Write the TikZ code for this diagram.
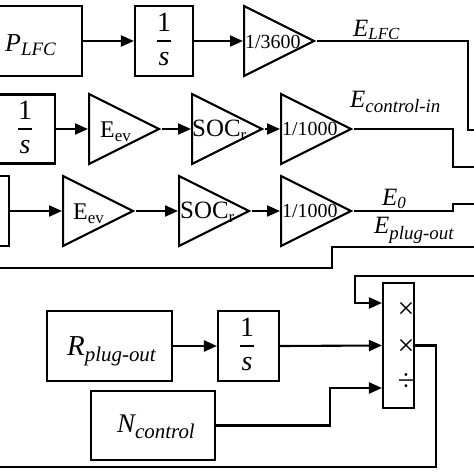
\documentclass[tikz,border=0pt]{standalone}
\usepackage{fontspec}
\setmainfont{Liberation Serif}
\usetikzlibrary{arrows.meta,shapes.geometric}
\newcommand\lab[5]{{\fontsize{#1}{#1}\selectfont\itshape #4}\raisebox{-#3bp}{\fontsize{#2}{#2}\selectfont\itshape #5}}
\newcommand\frf{\fontsize{28}{28}\selectfont}
\newcommand\gainf{\fontsize{20}{20}\selectfont}
\newcommand\eev{{\fontsize{24}{24}\selectfont E\raisebox{-4bp}{\fontsize{17}{17}\selectfont ev}}}
\newcommand\socr{{\fontsize{25}{25}\selectfont SOC\raisebox{-4bp}{\fontsize{17}{17}\selectfont r}}}
\newcommand\fracin[3]{%
  \node[txt,font=\frf] (#1n) at (#2,#3-18.5) {1};
  \draw[line width=1.4bp] (#2-7,#3) -- (#2+7,#3);
  \node[txt,font=\frf\itshape] (#1d) at (#2,#3+18.5) {s};
}
\begin{document}
\begin{tikzpicture}[x=1bp,y=-1bp,
  blk/.style={draw,line width=2.1bp,inner sep=0pt},
  tri/.style={draw,line width=2.1bp,isosceles triangle,isosceles triangle stretches,inner sep=0pt,minimum width=70bp,minimum height=70bp,anchor=lower side},
  wire/.style={line width=2.1bp},
  arr/.style={wire,-{Triangle[length=13bp,width=11bp]}},
  txt/.style={inner sep=0pt}]
\useasboundingbox (0,0) rectangle (474,474);
\fill[white] (0,0) rectangle (474,474);
\clip (0,0) rectangle (474,474);

% ---- row 1
\node[blk,minimum width=92bp,minimum height=70bp] (plfc) at (36,41) {};
\node[txt,anchor=base west] (plfct) at (5,52) {\lab{26}{19}{4}{P}{LFC}};
\node[blk,minimum width=58bp,minimum height=70bp] (int1) at (164,41) {};
\fracin{int1}{164}{41}
\node[tri] (g1) at (243,41) {};
\node[txt,anchor=west] (g1t) at (245,42) {\gainf 1/3600};
\draw[arr] (plfc.east) -- (int1.west);
\draw[arr] (int1.east) -- (g1.lower side);
\coordinate (o1) at (474,130);
\draw[wire] (g1.apex) -- ++(151,0) |- (o1);
\node[txt,anchor=base west] (elfc) at (353,37) {\lab{25}{17}{3}{E}{LFC}};

% ---- row 2
\node[blk,minimum width=75bp,minimum height=69bp] (int2) at (17.5,129) {};
\fracin{int2}{25}{129}
\node[tri] (eev2) at (88,129) {};
\node[tri] (soc2) at (191,129) {};
\node[tri] (k2) at (280,129) {};
\node[txt,anchor=west] (eev2t) at (100,132) {\eev};
\node[txt,anchor=west] (soc2t) at (192,130) {\socr};
\node[txt,anchor=west] (k2t) at (282,129) {\gainf 1/1000};
\draw[arr] (int2.east) -- (eev2.lower side);
\draw[arr] (eev2.apex) -- (soc2.lower side);
\draw[arr] (soc2.apex) -- (k2.lower side);
\coordinate (o2) at (474,167);
\draw[wire] (k2.apex) -- ++(99,0) |- (o2);
\node[txt,anchor=base west] (ecin) at (350,108) {\lab{25}{19}{5}{E}{control-in}};

% ---- row 3
\node[blk,minimum width=58bp,minimum height=70bp] (int3) at (-20,211) {};
\node[tri] (eev3) at (62,211) {};
\node[tri] (soc3) at (178,211) {};
\node[tri] (k3) at (280,211) {};
\node[txt,anchor=west] (eev3t) at (73,214) {\eev};
\node[txt,anchor=west] (soc3t) at (180,212) {\socr};
\node[txt,anchor=west] (k3t) at (282,211) {\gainf 1/1000};
\draw[arr] (int3.east) -- (eev3.lower side);
\draw[arr] (eev3.apex) -- (soc3.lower side);
\draw[arr] (soc3.apex) -- (k3.lower side);
\coordinate (o3) at (474,204);
\draw[wire] (k3.apex) -- ++(99,0) |- (o3);
\node[txt,anchor=base west] (e0) at (382,206) {\lab{25}{17}{3}{E}{0}};

% ---- plug-out line
\coordinate (pin) at (474,247);
\coordinate (pout) at (0,268);
\draw[wire] (pin) -- ++(-142,0) |- (pout);
\node[txt,anchor=base west] (epo) at (374,234) {\lab{25}{19}{5}{E}{plug-out}};

% ---- bottom
\node[blk,minimum width=31bp,minimum height=125bp] (prod) at (398.5,345.5) {};
\node[txt,font=\fontsize{30}{30}\selectfont] (m1) at (406,310) {×};
\node[txt,font=\fontsize{30}{30}\selectfont] (m2) at (406,347) {×};
\node[txt,font=\fontsize{30}{30}\selectfont] (dv) at (406,382) {÷};
\node[blk,minimum width=125bp,minimum height=70bp] (rpo) at (109.5,346) {};
\node[txt,anchor=base west] (rpot) at (67,355) {\lab{29}{21}{6}{R}{plug-out}};
\node[blk,minimum width=61bp,minimum height=70bp] (int4) at (248.5,346) {};
\fracin{int4}{247}{346}
\node[blk,minimum width=124bp,minimum height=69bp] (nc) at (153,425.5) {};
\node[txt,anchor=base west] (nct) at (117,432) {\lab{27}{21}{6}{N}{control}};
\coordinate (fb) at (474,276);
\draw[arr] (fb) -- ++(-119,0) |- ([yshift=42.5bp]prod.west);
\draw[arr] (rpo.east) -- (int4.west);
\draw[arr] (int4.east) -- (prod.west);
\draw[arr] (nc.east) -- ++(114,0) |- ([yshift=-42.5bp]prod.west);
\coordinate (fbo) at (0,467);
\draw[wire] (prod.east) -- ++(21,0) |- (fbo);
\end{tikzpicture}
\end{document}
